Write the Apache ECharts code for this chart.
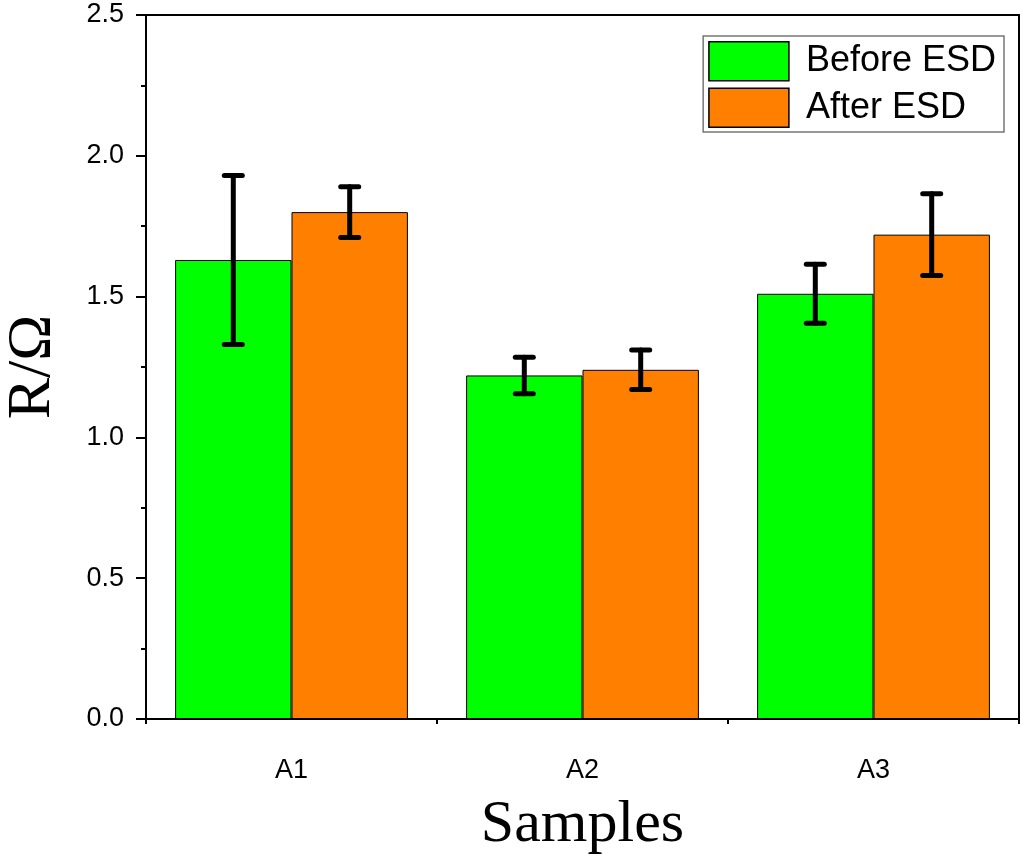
<!DOCTYPE html>
<html>
<head>
<meta charset="utf-8">
<script src="https://cdn.jsdelivr.net/npm/echarts@6/dist/echarts.min.js"></script>
<style>
  html, body { margin: 0; padding: 0; background: #fff; }
  #main { width: 1025px; height: 859px; }
</style>
</head>
<body>
<div id="main"></div>
<script>
// data
var samples = ['A1', 'A2', 'A3'];
var beforeVal = [1.63, 1.22, 1.51];
var beforeErr = [0.30, 0.065, 0.105];
var afterVal = [1.80, 1.24, 1.72];
var afterErr = [0.09, 0.07, 0.145];
var yTicks = [0, 0.5, 1.0, 1.5, 2.0, 2.5];

var chart = echarts.init(document.getElementById('main'));

// error bar data: [categoryIndex, low, high]
function errData(vals, errs) {
  return vals.map(function (v, i) { return [i, v - errs[i], v + errs[i]]; });
}

// side = -1 left bar, +1 right bar
function errRender(side) {
  return function (params, api) {
    var idx = api.value(0);
    var bandW = api.size([1, 0])[0];
    var off = side * bandW * 0.2;
    var lo = api.coord([idx, api.value(1)]);
    var hi = api.coord([idx, api.value(2)]);
    var x = lo[0] + off;
    var cap = 9;
    var st = { stroke: '#000', lineWidth: 5, lineCap: 'round' };
    return {
      type: 'group',
      children: [
        { type: 'line', shape: { x1: x, y1: hi[1], x2: x, y2: lo[1] }, style: st },
        { type: 'line', shape: { x1: x - cap, y1: hi[1], x2: x + cap, y2: hi[1] }, style: st },
        { type: 'line', shape: { x1: x - cap, y1: lo[1], x2: x + cap, y2: lo[1] }, style: st }
      ]
    };
  };
}

var option = {
  animation: false,
  backgroundColor: '#fff',
  grid: {
    left: 146, right: 6, top: 15, bottom: 140,
    outerBoundsMode: 'none', containLabel: false,
    show: true, borderColor: '#000', borderWidth: 2
  },
  legend: {
    right: 21, top: 36,
    orient: 'vertical',
    icon: 'rect',
    itemWidth: 80, itemHeight: 39, itemGap: 6,
    padding: [5, 8, 4, 5],
    borderColor: '#777', borderWidth: 1.5, borderRadius: 0,
    backgroundColor: '#fff',
    itemStyle: { borderColor: '#000', borderWidth: 1.5 },
    textStyle: { fontFamily: 'Liberation Sans, Arial', fontSize: 36, color: '#000', padding: [0, 0, 0, 12] },
    data: ['Before ESD', 'After ESD']
  },
  xAxis: [{
    type: 'category',
    data: samples,
    name: 'Samples',
    nameLocation: 'middle',
    nameGap: 76,
    nameTextStyle: { fontFamily: 'Liberation Serif, Times New Roman', fontSize: 60, color: '#000' },
    axisLine: { lineStyle: { color: '#000', width: 2 } },
    axisTick: { alignWithLabel: true, length: 10, lineStyle: { color: '#000', width: 2 } },
    axisLabel: { fontFamily: 'Liberation Sans, Arial', fontSize: 27, color: '#000', margin: 38 },
    splitLine: { show: false }
  }, {
    // minor ticks at category boundaries
    type: 'value',
    position: 'bottom',
    min: 0, max: 3, interval: 1,
    axisLine: { show: false },
    axisTick: { length: 5, lineStyle: { color: '#000', width: 2 } },
    axisLabel: { show: false },
    splitLine: { show: false }
  }],
  yAxis: {
    type: 'value',
    min: yTicks[0], max: yTicks[yTicks.length - 1], interval: 0.5,
    name: 'R/Ω',
    nameLocation: 'middle',
    nameGap: 82,
    nameTextStyle: { fontFamily: 'Liberation Serif, Times New Roman', fontSize: 62, color: '#000' },
    axisLine: { show: true, lineStyle: { color: '#000', width: 2 } },
    axisTick: { show: true, length: 10, lineStyle: { color: '#000', width: 2 } },
    minorTick: { show: true, splitNumber: 2, length: 5, lineStyle: { color: '#000', width: 2 } },
    axisLabel: {
      fontFamily: 'Liberation Sans, Arial', fontSize: 27, color: '#000', margin: 22,
      formatter: function (v) { return v.toFixed(1); }
    },
    splitLine: { show: false }
  },
  series: [
    {
      name: 'Before ESD', type: 'bar', data: beforeVal,
      barWidth: '40%', barGap: '0%',
      itemStyle: { color: '#00ff00', borderColor: '#000', borderWidth: 1 }
    },
    {
      name: 'After ESD', type: 'bar', data: afterVal,
      barWidth: '40%', barGap: '0%',
      itemStyle: { color: '#ff8000', borderColor: '#000', borderWidth: 1 }
    },
    {
      type: 'custom', renderItem: errRender(-1),
      data: errData(beforeVal, beforeErr),
      encode: { x: 0, y: [1, 2] }, z: 10, silent: true
    },
    {
      type: 'custom', renderItem: errRender(1),
      data: errData(afterVal, afterErr),
      encode: { x: 0, y: [1, 2] }, z: 10, silent: true
    }
  ]
};

chart.setOption(option);
</script>
</body>
</html>
